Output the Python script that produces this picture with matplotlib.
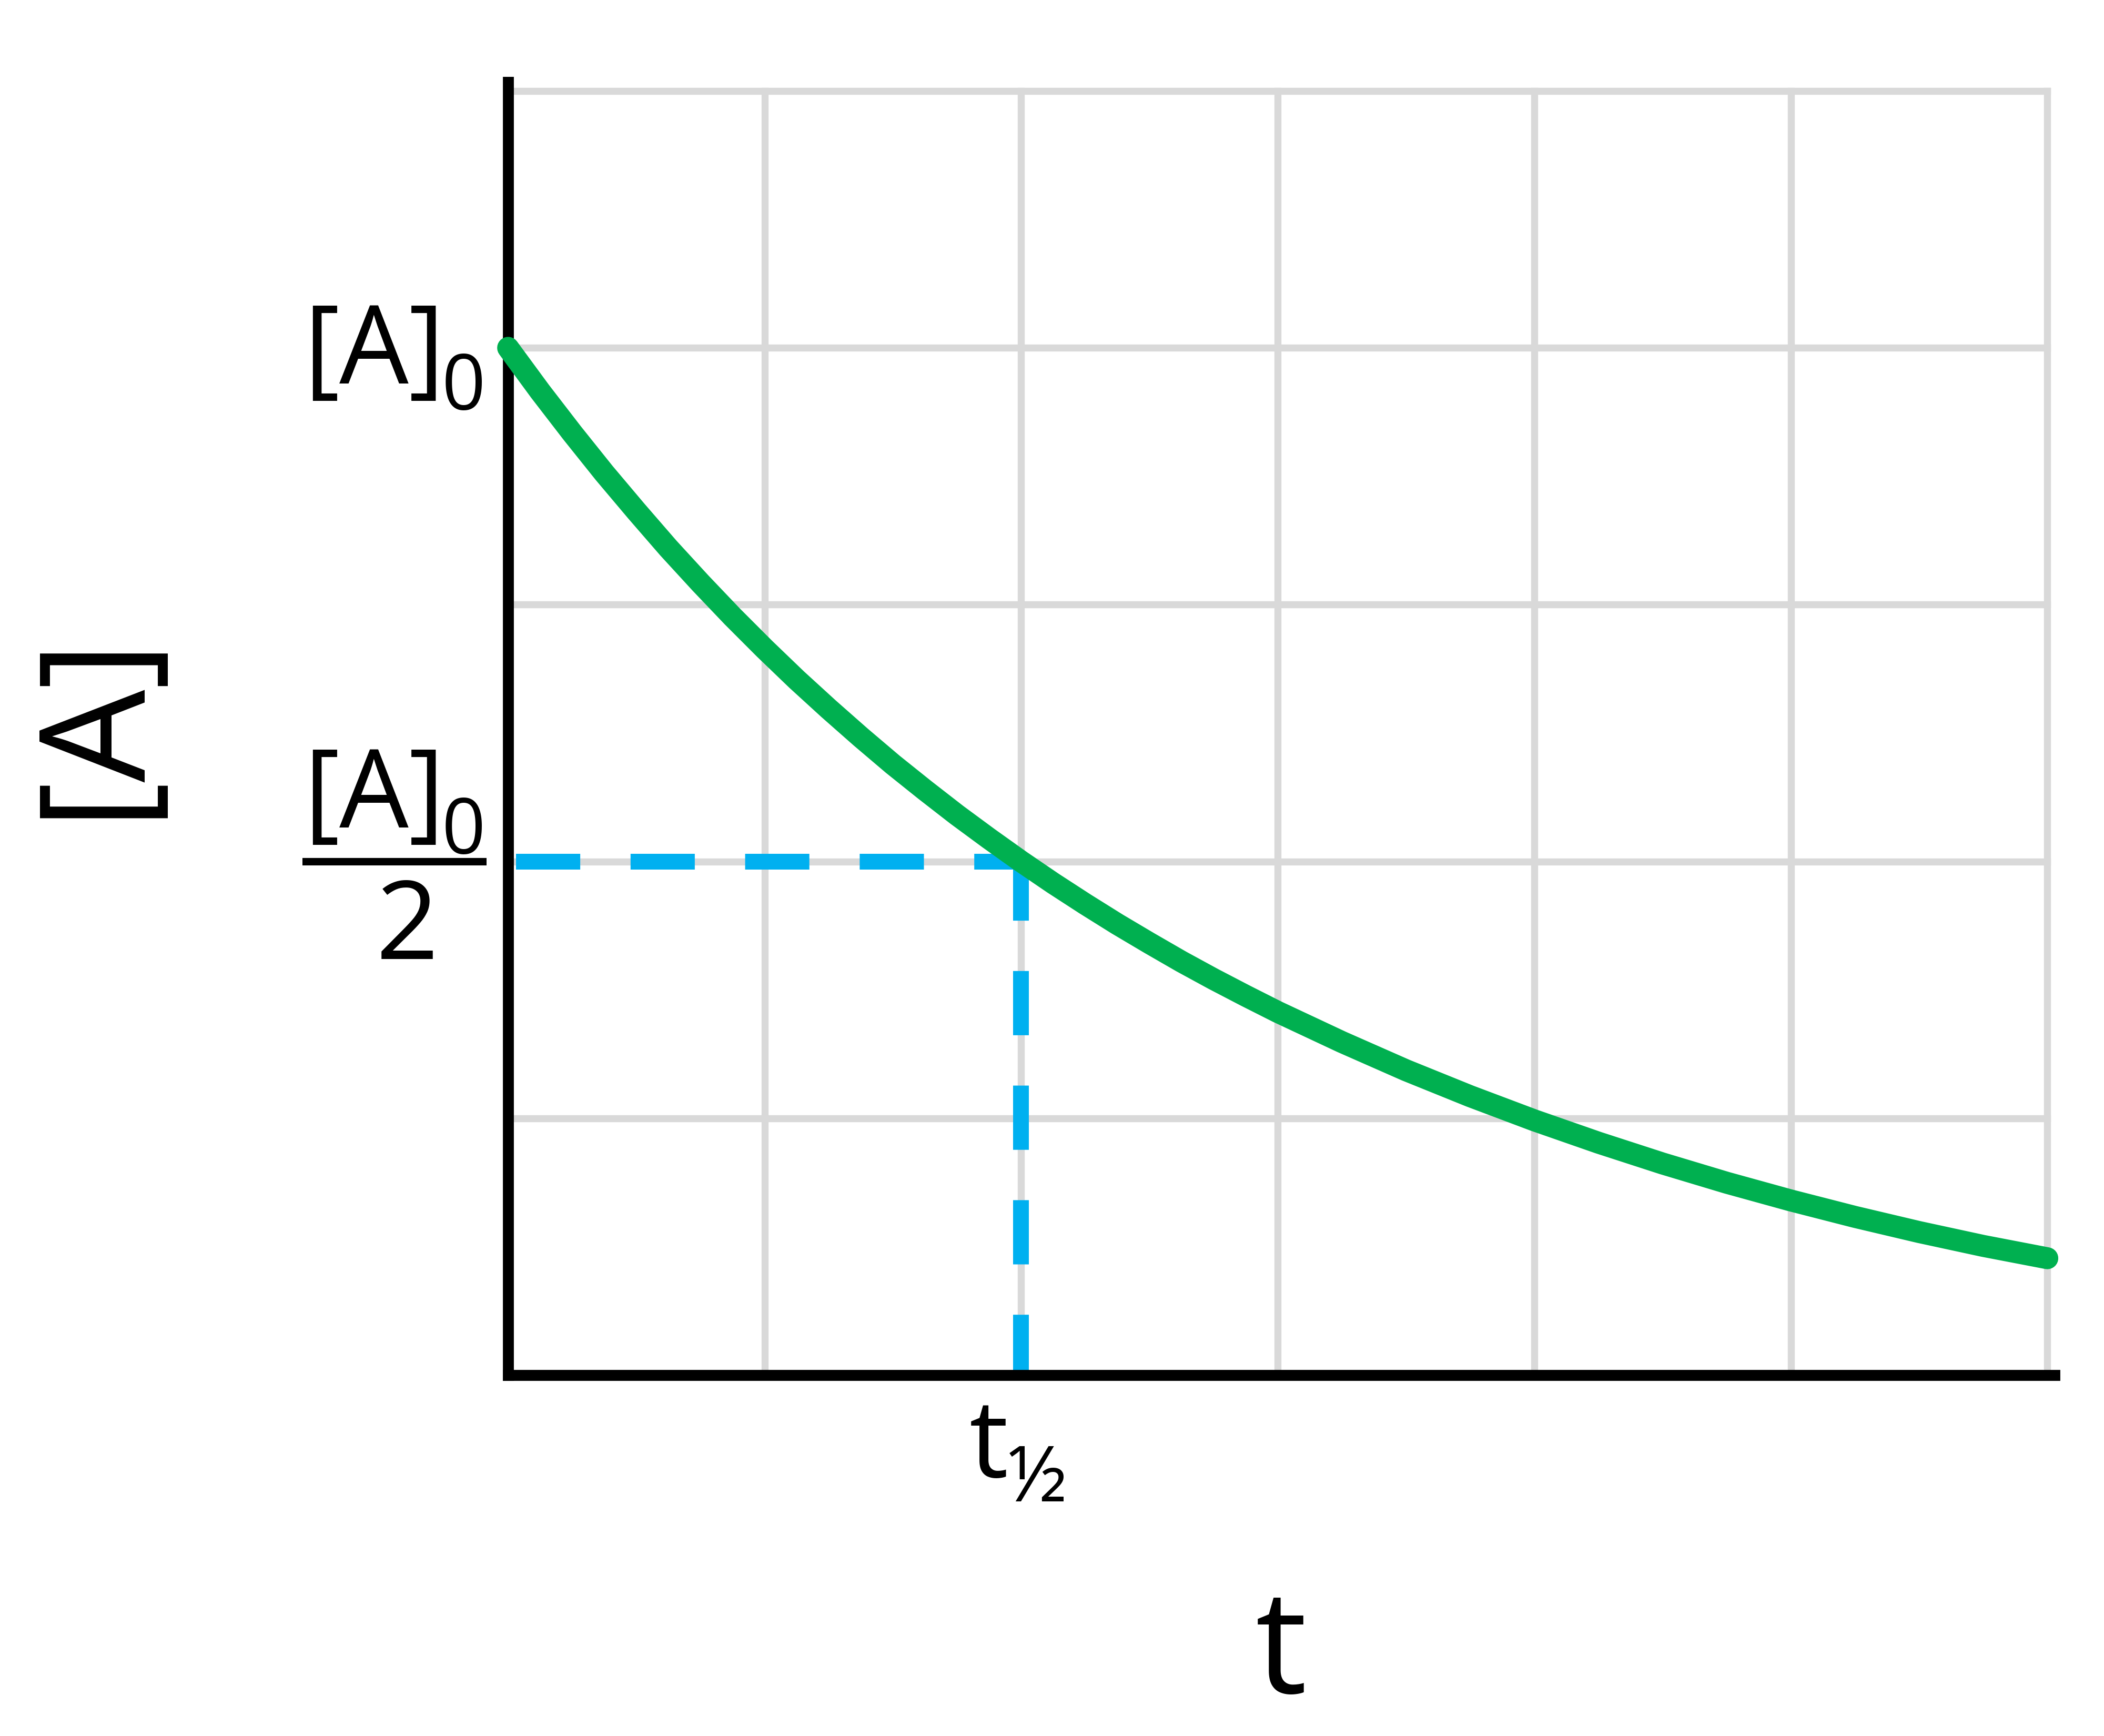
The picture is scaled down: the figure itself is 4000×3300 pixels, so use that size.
import numpy as np
import matplotlib
matplotlib.use("Agg")
import matplotlib.pyplot as plt

plt.rcParams['font.family'] = ['Open Sans', 'DejaVu Sans']

# concentration of A vs time (half-life = 2 grid units)
t_vals = [0.0, 0.125, 0.25, 0.375, 0.5, 0.625, 0.75, 0.875, 1.0, 1.125, 1.25, 1.375,
          1.5, 1.625, 1.75, 1.875, 2.0, 2.125, 2.25, 2.375, 2.5, 2.625, 2.75, 2.875,
          3.0, 3.25, 3.5, 3.75, 4.0, 4.25, 4.5, 4.75, 5.0, 5.25, 5.5, 5.75, 6.0]
conc_vals = [4.000, 3.830, 3.668, 3.512, 3.364, 3.220, 3.084, 2.953, 2.828, 2.708,
             2.594, 2.484, 2.378, 2.278, 2.181, 2.089, 2.000, 1.915, 1.834, 1.756,
             1.682, 1.610, 1.542, 1.477, 1.414, 1.297, 1.187, 1.086, 0.992, 0.905,
             0.824, 0.749, 0.680, 0.616, 0.557, 0.503, 0.455]

A0 = 4.0
half_A0 = 2.0
t_half = 2.0
grid_x = [1, 2, 3, 4, 5, 6]
grid_y = [1, 2, 3, 4, 5]

green = '#00B050'
blue = '#00B0F0'
grey = '#D9D9D9'

fig = plt.figure(figsize=(40 / 3, 11), dpi=300)
ax = fig.add_axes([0.2415, 0.2079, 0.7351, 0.7447])
ax.set_xlim(0, 6.029)
ax.set_ylim(0, 5.034)

# grid (drawn by hand so it stops at the last cell)
ax.vlines(grid_x, 0, 5, colors=grey, linewidth=3.2, capstyle='projecting', zorder=1)
ax.hlines(grid_y, 0, 6, colors=grey, linewidth=3.2, capstyle='projecting', zorder=1)

# half-life guide lines
ax.plot([0.03, t_half], [half_A0, half_A0], color=blue, lw=7.2,
        dashes=(4.07, 3.19), solid_capstyle='butt', zorder=2)
ax.plot([t_half, t_half], [half_A0 + 0.02, 0], color=blue, lw=7.2,
        dashes=(4.07, 3.19), solid_capstyle='butt', zorder=2)

# decay curve
ax.plot(t_vals, conc_vals, color=green, lw=10, solid_capstyle='round',
        solid_joinstyle='round', zorder=4, clip_on=False)

for s in ['top', 'right']:
    ax.spines[s].set_visible(False)
for s in ['left', 'bottom']:
    ax.spines[s].set_linewidth(5)
    ax.spines[s].set_color('black')
    ax.spines[s].set_capstyle('projecting')
    ax.spines[s].set_zorder(3)
ax.set_xticks([])
ax.set_yticks([])


def label(text, xy, off, size, ha='right', coords=('axes fraction', 'data'), **kw):
    ax.annotate(text, xy=xy, xycoords=coords, xytext=off, textcoords='offset pixels',
                ha=ha, va='baseline', fontsize=size, annotation_clip=False, **kw)


# [A]0 at the start value
label('[A]', (0, A0), (-121, -68), 50)
label('0', (0, A0), (-43, -118), 35)

# [A]0 / 2 at the half value
label('[A]', (0, half_A0), (-121, 65), 50)
label('0', (0, half_A0), (-43, 15), 35)
ax.plot([-0.1330, -0.0139], [half_A0, half_A0], transform=ax.get_yaxis_transform(),
        color='black', lw=3.4, solid_capstyle='butt', clip_on=False)
label('2', (0, half_A0), (-192, -185), 50, ha='center')

# t1/2 under the axis
label('t', (t_half, 0), (-99, -194), 50, ha='left', coords='data')
label('½', (t_half, 0), (-26, -240), 35, ha='left', coords='data')

# axis titles
ax.annotate('t', xy=(0.5, 0), xycoords='axes fraction',
            xytext=(0, -604), textcoords='offset pixels', ha='center', va='baseline',
            fontsize=66)
ax.annotate('[A]', xy=(0, 0.5038), xycoords='axes fraction',
            xytext=(-785, 0), textcoords='offset pixels', ha='center', va='center',
            rotation=90, fontsize=67)

fig.savefig('out.png', dpi=300, facecolor='white')
